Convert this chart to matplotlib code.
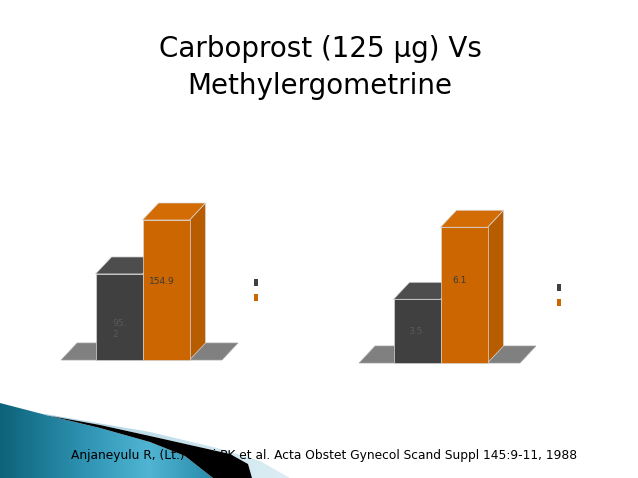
import numpy as np
import matplotlib
matplotlib.use("Agg")
import matplotlib.pyplot as plt
from matplotlib.patches import Polygon, Patch
from matplotlib.colors import LinearSegmentedColormap

# data
title = "Carboprost (125 μg) Vs\nMethylergometrine"
source = "Anjaneyulu R, (Lt.) Devi PK et al. Acta Obstet Gynecol Scand Suppl 145:9-11, 1988"
series_colors = ["#404040", "#CC6600"]
left_values = [95.2, 154.9]
right_values = [3.5, 6.1]
right_axis_min = 1.2

W, H = 638, 478
fig = plt.figure(figsize=(W / 100, H / 100), dpi=100)
fig.patch.set_facecolor("white")

# full-slide axes in pixel coordinates for decoration and text
bg = fig.add_axes([0, 0, 1, 1])
bg.set_xlim(0, W)
bg.set_ylim(H, 0)
bg.axis("off")

# teal swoosh in the bottom-left corner
teal_cmap = LinearSegmentedColormap.from_list(
    "teal", [(0, "#0c6379"), (0.4, "#2f93b3"), (0.7, "#50b4d3"), (1, "#2a8cab")])
grad = np.linspace(0, 1, 256)[None, :]
teal_edge = [(0, 403), (50, 416), (100, 428), (150, 442), (185, 456), (213, 478)]
teal_poly = Polygon(teal_edge + [(0, 478)], closed=True, facecolor="none", edgecolor="none")
bg.add_patch(teal_poly)
im = bg.imshow(grad, cmap=teal_cmap, extent=(0, 213, 478, 400), aspect="auto", zorder=1)
im.set_clip_path(teal_poly)

black_top = [(45, 415), (100, 425), (150, 436), (230, 454), (248, 464), (252, 478)]
light_top = [(45, 414), (150, 432), (217, 448), (260, 461), (290, 478)]
light_poly = Polygon(light_top + black_top[::-1], closed=True, facecolor="none", edgecolor="none")
bg.add_patch(light_poly)
light_cmap = LinearSegmentedColormap.from_list("light", ["#a9d2e2", "#ddeef5"])
im2 = bg.imshow(grad, cmap=light_cmap, extent=(45, 290, 478, 410), aspect="auto", zorder=1)
im2.set_clip_path(light_poly)

bg.add_patch(Polygon(black_top + [(213, 478)] + teal_edge[::-1][1:5], closed=True,
                     facecolor="black", edgecolor="none", zorder=2))

bg.text(320, 67.5, title, ha="center", va="center", fontsize=20, linespacing=1.38,
        family="DejaVu Sans", color="black", zorder=3)
bg.text(324, 456, source, ha="center", va="center", fontsize=8.8,
        family="DejaVu Sans", color="black", zorder=3)


def draw_chart(values, base, center_px, base_px, ppu_y, label_pos, wrap_first, legend_px):
    unit_px = 47.0
    box = (center_px - 80, 170, center_px + 190, 375)
    ax = fig.add_axes([box[0] / W, 1 - box[3] / H, (box[2] - box[0]) / W, (box[3] - box[1]) / H])
    ax.set_xlim((box[0] - center_px) / unit_px, (box[2] - center_px) / unit_px)
    ax.set_ylim(base - (box[3] - base_px) / ppu_y, base + (base_px - box[1]) / ppu_y)
    ax.axis("off")
    ax.patch.set_alpha(0)

    dx = 16 / unit_px
    dy = 17 / ppu_y

    # floor
    fl, fr = -1.23, 2.19
    ax.add_patch(Polygon([(fl, base), (fr, base), (fr + dx, base + dy), (fl + dx, base + dy)],
                         closed=True, facecolor="#808080", edgecolor="#a0a0a0", lw=0.5, zorder=1))

    tops = ["#4d4d4d", "#d36c05"]
    sides = ["#353535", "#b85c00"]
    for i, v in enumerate(values):
        z = 2 + i * 3
        x0, x1 = i - 0.5, i + 0.5
        ax.add_patch(Polygon([(x1, base), (x1 + dx, base + dy), (x1 + dx, v + dy), (x1, v)],
                             closed=True, facecolor=sides[i], edgecolor="#d8d8d8", lw=0.5, zorder=z))
        ax.add_patch(Polygon([(x0, v), (x1, v), (x1 + dx, v + dy), (x0 + dx, v + dy)],
                             closed=True, facecolor=tops[i], edgecolor="#d8d8d8", lw=0.5, zorder=z))
        ax.bar([i], [v - base], bottom=base, width=1.0, color=series_colors[i],
               edgecolor="#d8d8d8", lw=0.5, zorder=z + 1)

    for i, v in enumerate(values):
        s = f"{v:.1f}"
        if wrap_first and i == 0:
            s = s[:3] + "\n" + s[3:]
        fx, fy = label_pos[i]
        ax.text(i - 0.5 + fx, base + (v - base) * fy, s, ha="left", va="center",
                fontsize=6.5, color="#5a5a5a" if i == 0 else "#3a3a3a", linespacing=1.3,
                zorder=10)

    handles = [Patch(facecolor=c, edgecolor="none") for c in series_colors]
    ax.legend(handles, ["", ""], loc="upper left", frameon=False, fontsize=8,
              handlelength=0.35, handleheight=0.6, labelspacing=0.45, handletextpad=0,
              borderpad=0, borderaxespad=0,
              bbox_to_anchor=(legend_px[0] / W, 1 - legend_px[1] / H),
              bbox_transform=fig.transFigure)
    return ax


draw_chart(left_values, 0.0, 119, 360, 140 / 154.9,
           [(0.36, 0.36), (0.13, 0.56)], True, (254, 278))
draw_chart(right_values, right_axis_min, 417, 363, 27.7,
           [(0.32, 0.5), (0.26, 0.61)], False, (557, 283))

fig.savefig("out.png", dpi=100)
